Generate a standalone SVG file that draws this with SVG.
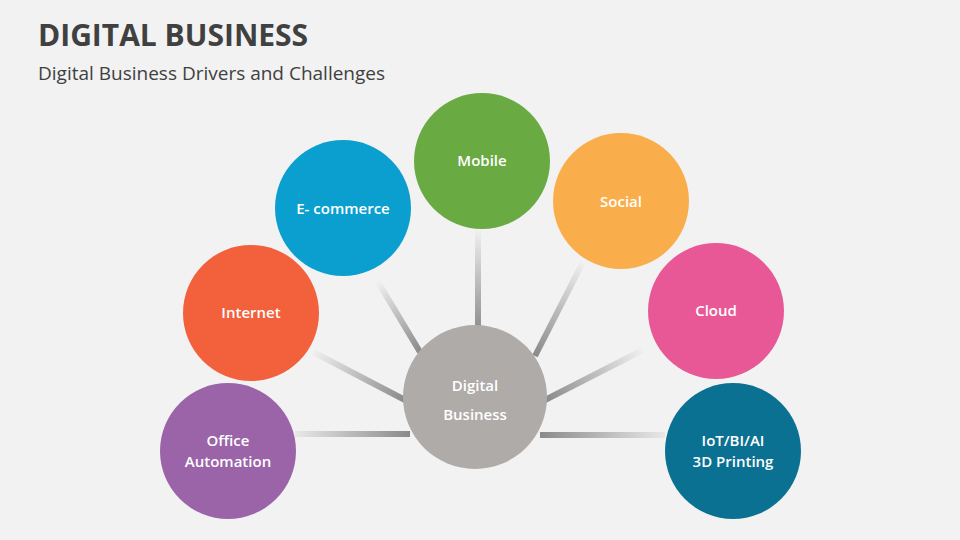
<svg xmlns="http://www.w3.org/2000/svg" width="960" height="540" viewBox="0 0 960 540">
<defs>
<style>
.t{font-family:"Open Sans","Liberation Sans",sans-serif;fill:#fff;text-anchor:middle;font-weight:600;font-size:15px}
.c{stroke-width:6;fill:none}
</style>
<linearGradient id="g1" gradientUnits="userSpaceOnUse" x1="410" y1="434" x2="295" y2="434"><stop offset="0" stop-color="#8a8a8a"/><stop offset="1" stop-color="#e8e8e8"/></linearGradient>
<linearGradient id="g2" gradientUnits="userSpaceOnUse" x1="405" y1="400" x2="313" y2="352"><stop offset="0" stop-color="#8a8a8a"/><stop offset="1" stop-color="#f0f0f0"/></linearGradient>
<linearGradient id="g3" gradientUnits="userSpaceOnUse" x1="420" y1="352" x2="378" y2="282"><stop offset="0" stop-color="#8a8a8a"/><stop offset="1" stop-color="#f0f0f0"/></linearGradient>
<linearGradient id="g4" gradientUnits="userSpaceOnUse" x1="478" y1="333" x2="478" y2="230"><stop offset="0" stop-color="#8a8a8a"/><stop offset="1" stop-color="#f0f0f0"/></linearGradient>
<linearGradient id="g5" gradientUnits="userSpaceOnUse" x1="535" y1="356" x2="583" y2="262"><stop offset="0" stop-color="#8a8a8a"/><stop offset="1" stop-color="#f0f0f0"/></linearGradient>
<linearGradient id="g6" gradientUnits="userSpaceOnUse" x1="545" y1="400" x2="643" y2="350"><stop offset="0" stop-color="#8a8a8a"/><stop offset="1" stop-color="#f0f0f0"/></linearGradient>
<linearGradient id="g7" gradientUnits="userSpaceOnUse" x1="540" y1="435" x2="665" y2="435"><stop offset="0" stop-color="#8a8a8a"/><stop offset="1" stop-color="#e8e8e8"/></linearGradient>
</defs>
<rect width="960" height="540" fill="#f2f2f2"/>
<text x="38" y="46" font-family="'Open Sans','Liberation Sans',sans-serif" font-weight="700" font-size="30" fill="#404040">DIGITAL BUSINESS</text>
<text x="38" y="80" font-family="'Open Sans','Liberation Sans',sans-serif" font-size="19" fill="#404040">Digital Business Drivers and Challenges</text>
<g id="connectors">
<line class="c" stroke="url(#g1)" x1="410" y1="434" x2="295" y2="434"/>
<line class="c" stroke="url(#g2)" x1="405" y1="400" x2="313" y2="352"/>
<line class="c" stroke="url(#g3)" x1="420" y1="352" x2="378" y2="282"/>
<line class="c" stroke="url(#g4)" x1="478" y1="333" x2="478" y2="230"/>
<line class="c" stroke="url(#g5)" x1="535" y1="356" x2="583" y2="262"/>
<line class="c" stroke="url(#g6)" x1="545" y1="400" x2="643" y2="350"/>
<line class="c" stroke="url(#g7)" x1="540" y1="435" x2="665" y2="435"/>
</g>
<g id="center"><circle cx="475" cy="397" r="72" fill="#aeaba9"/>
<text class="t" x="475" y="391" font-size="21" font-weight="400">Digital</text>
<text class="t" x="475" y="420" font-size="21" font-weight="400">Business</text></g>
<g id="office"><circle cx="228" cy="451" r="68" fill="#9b64a8"/><text class="t" x="228" y="446">Office</text><text class="t" x="228" y="467">Automation</text></g>
<g id="internet"><circle cx="251" cy="313" r="68" fill="#f2603c"/><text class="t" x="251" y="318">Internet</text></g>
<g id="ecommerce"><circle cx="343" cy="208" r="68" fill="#0a9fcf"/><text class="t" x="343" y="214">E- commerce</text></g>
<g id="mobile"><circle cx="482" cy="161" r="68" fill="#6aaa42"/><text class="t" x="482" y="166">Mobile</text></g>
<g id="social"><circle cx="621" cy="201" r="68" fill="#f9ae4b"/><text class="t" x="621" y="207">Social</text></g>
<g id="cloud"><circle cx="716" cy="311" r="68" fill="#e95896"/><text class="t" x="716" y="316">Cloud</text></g>
<g id="iot"><circle cx="733" cy="451" r="68" fill="#0b7192"/><text class="t" x="733" y="446">IoT/BI/AI</text><text class="t" x="733" y="467">3D Printing</text></g>
</svg>
